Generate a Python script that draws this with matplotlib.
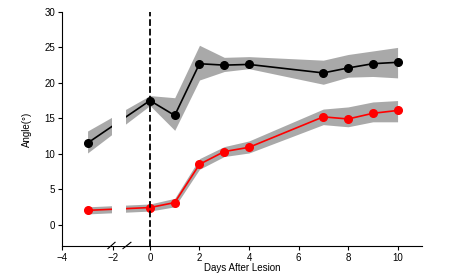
import numpy as np
import matplotlib
matplotlib.use("Agg")
import matplotlib.pyplot as plt
import matplotlib.transforms as mtransforms

plt.rcParams["font.family"] = ["Liberation Sans", "DejaVu Sans"]

days = [-3, 0, 1, 2, 3, 4, 7, 8, 9, 10]

ctrl_mean = [11.5, 17.5, 15.4, 22.7, 22.5, 22.6, 21.4, 22.1, 22.7, 22.9]
ctrl_lo = [10.1, 16.8, 13.3, 20.4, 21.6, 22.0, 19.8, 20.8, 20.9, 20.7]
ctrl_hi = [13.2, 18.2, 17.9, 25.3, 23.6, 23.7, 23.2, 24.0, 24.5, 25.0]

lesion_mean = [2.0, 2.4, 3.1, 8.5, 10.3, 10.9, 15.2, 14.9, 15.7, 16.1]
lesion_lo = [1.5, 1.9, 2.5, 7.8, 9.6, 10.1, 14.1, 13.8, 14.5, 14.5]
lesion_hi = [2.5, 2.9, 3.7, 9.3, 11.0, 11.8, 16.3, 16.6, 17.3, 17.5]

xticks = [-4, -2, 0, 2, 4, 6, 8, 10]
yticks = [0, 5, 10, 15, 20, 25, 30]

# the source figure squeezes the pre-lesion days; mimic with a piecewise scale
knots_data = [-4, -2, 0, 11]
knots_px = [0, 51, 88, 360.8]


def fwd(x):
    return np.interp(x, knots_data, knots_px)


def inv(x):
    return np.interp(x, knots_px, knots_data)


fig = plt.figure(figsize=(4.74, 2.79), dpi=100)
ax = fig.add_axes([0.131, 0.119, 0.760, 0.838])
ax.set_xscale("function", functions=(fwd, inv))

ax.fill_between(days, ctrl_lo, ctrl_hi, color="#a9a9a9", lw=0, zorder=1)
ax.plot(days, ctrl_mean, "-o", color="black", lw=1.2, ms=5.5, zorder=2)
ax.fill_between(days, lesion_lo, lesion_hi, color="#a9a9a9", lw=0, zorder=1)
ax.plot(days, lesion_mean, "-o", color="red", lw=1.2, ms=5.5, zorder=2)

# gap for the axis break
ax.axvspan(-2.05, -1.3, color="white", lw=0, zorder=3)
ax.axvline(0, color="black", ls="--", lw=1.3, zorder=4)

trans = mtransforms.blended_transform_factory(ax.transData, ax.transAxes)
for x0, x1 in [(-2.2, -1.89), (-1.46, -1.03)]:
    ax.plot([x0, x1], [-0.012, 0.015], color="black", lw=0.8,
            transform=trans, clip_on=False, zorder=5)

ax.set_xlim(-4, 11)
ax.set_ylim(-3, 30)
ax.set_xticks(xticks)
ax.set_yticks(yticks)
ax.tick_params(labelsize=7, length=3, width=0.8, pad=2)
for s in ("top", "right"):
    ax.spines[s].set_visible(False)
ax.set_xlabel("Days After Lesion", fontsize=7, labelpad=0)
ax.set_ylabel("Angle(°)", fontsize=7, labelpad=9)

fig.savefig("out.png", dpi=100)
